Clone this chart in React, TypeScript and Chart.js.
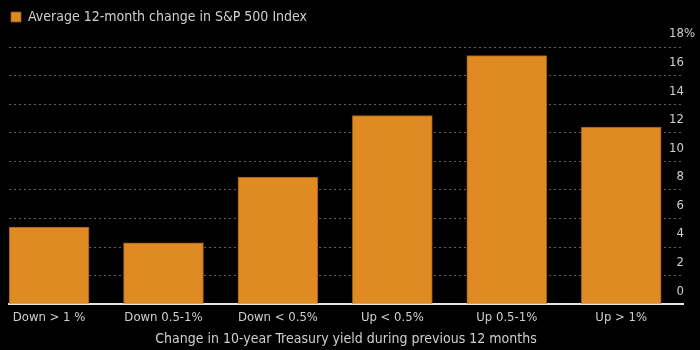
import React, { useEffect, useRef } from "react";
import { Chart, registerables } from "chart.js";

Chart.register(...registerables);

const categories = ["Down > 1 %", "Down 0.5-1%", "Down < 0.5%", "Up < 0.5%", "Up 0.5-1%", "Up > 1%"];
const values = [5.4, 4.3, 8.9, 13.2, 17.4, 12.4];
const yTicks = [0, 2, 4, 6, 8, 10, 12, 14, 16, 18];
const seriesLabel = "Average 12-month change in S&P 500 Index";
const xTitle = "Change in 10-year Treasury yield during previous 12 months";

const FONT = "'DejaVu Sans Condensed', 'DejaVu Sans', sans-serif";
const TEXT = "#cfcfcf";
const BAR = "#E08A23";

export default function App() {
  const ref = useRef<HTMLCanvasElement | null>(null);

  useEffect(() => {
    if (!ref.current) return;
    const legendGap = {
      id: "legendGap",
      beforeInit(chart: any) {
        const orig = chart.legend.fit;
        chart.legend.fit = function () {
          orig.bind(chart.legend)();
          this.height += 13;
        };
      },
    };
    const percentSign = {
      id: "percentSign",
      afterDraw(chart: any) {
        const y = chart.scales.y;
        const ctx = chart.ctx;
        const top = yTicks[yTicks.length - 1];
        ctx.save();
        ctx.font = `13px ${FONT}`;
        ctx.fillStyle = TEXT;
        ctx.textAlign = "left";
        ctx.textBaseline = "middle";
        ctx.fillText("%", y.left + 1, y.getPixelForValue(top) - 13);
        ctx.restore();
      },
    };
    const chart = new Chart(ref.current, {
      type: "bar",
      data: {
        datasets: [
          {
            label: seriesLabel,
            data: values.map((v, i) => ({ x: i, y: v })),
            backgroundColor: BAR,
            borderColor: "#93581a",
            borderWidth: { left: 1, right: 1, top: 1, bottom: 0 },
            barThickness: 80,
          },
        ],
      },
      options: {
        animation: false,
        responsive: false,
        maintainAspectRatio: false,
        layout: { padding: { left: 9, right: 16, top: 8, bottom: 2 } },
        plugins: {
          legend: {
            display: true,
            position: "top",
            align: "start",
            labels: {
              boxWidth: 10,
              boxHeight: 10,
              padding: 2,
              color: TEXT,
              font: { family: FONT, size: 14 },
            },
          },
          tooltip: { enabled: false },
        },
        scales: {
          x: {
            type: "linear",
            offset: false,
            min: -0.35,
            max: 5.54,
            afterBuildTicks: (scale: any) => {
              scale.ticks = categories.map((_, i) => ({ value: i }));
            },
            ticks: {
              callback: (v: any) => categories[Number(v)] ?? "",
              color: TEXT,
              font: { family: FONT, size: 13, lineHeight: 1.0 },
              padding: 7,
              maxRotation: 0,
              autoSkip: false,
            },
            grid: { display: false, drawTicks: false, offset: false },
            border: { display: true, color: "#e6e6e6", width: 2 },
            title: {
              display: true,
              text: xTitle,
              color: TEXT,
              font: { family: FONT, size: 14 },
              padding: { top: 0, bottom: 0 },
            },
          },
          y: {
            type: "linear",
            position: "right",
            min: 0,
            max: 18,
            afterBuildTicks: (scale: any) => {
              scale.ticks = yTicks.map((v) => ({ value: v }));
            },
            afterFit: (scale: any) => {
              scale.width = 1;
            },
            ticks: {
              color: TEXT,
              font: { family: FONT, size: 13 },
              mirror: true,
              crossAlign: "near",
              labelOffset: -13,
              padding: 1,
              callback: (v: any) => String(v),
            },
            grid: {
              color: "#5e5e5e",
              lineWidth: 1,
              drawTicks: false,
            },
            border: { display: false, dash: [2, 3] },
          },
        },
      },
      plugins: [legendGap, percentSign],
    });
    return () => chart.destroy();
  }, []);

  return (
    <div style={{ position: "absolute", left: 0, top: 0, width: 700, height: 350, background: "#000" }}>
      <canvas ref={ref} width={700} height={350} style={{ display: "block" }} />
    </div>
  );
}
